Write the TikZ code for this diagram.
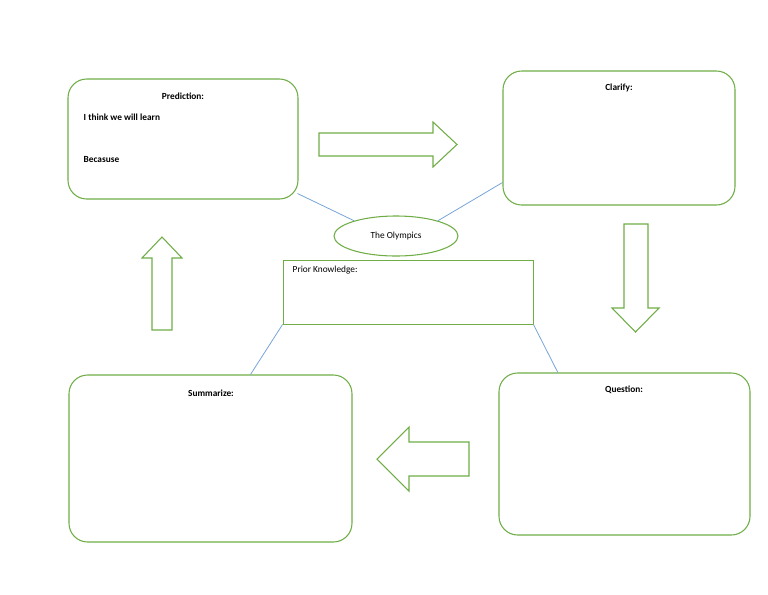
\documentclass[tikz,border=0pt]{standalone}
\usepackage{fontspec}
\setmainfont{Carlito}
\usetikzlibrary{shapes.geometric}
\definecolor{grn}{RGB}{112,173,71}
\definecolor{blu}{RGB}{120,165,215}
\begin{document}
\begin{tikzpicture}[x=0.75pt,y=-0.75pt,
  box/.style={draw=grn,line width=0.8pt,rounded corners=14pt,inner sep=0pt},
  lbl/.style={font=\fontsize{7}{8}\selectfont\bfseries},
  con/.style={draw=blu,line width=0.6pt},
  barrow/.style={draw=grn,line width=0.8pt,fill=white}]
\useasboundingbox (0,0) rectangle (768,594);
\node[box,minimum width=230*0.75pt,minimum height=120*0.75pt] (pred) at (183,139) {};
\node[box,minimum width=232*0.75pt,minimum height=134*0.75pt] (clar) at (619,138) {};
\node[box,minimum width=283*0.75pt,minimum height=167*0.75pt] (summ) at (210.5,458.5) {};
\node[box,minimum width=251*0.75pt,minimum height=162*0.75pt] (ques) at (624.5,454) {};
\node[draw=grn,line width=0.8pt,ellipse,minimum width=124*0.75pt,minimum height=40*0.75pt,font=\fontsize{7}{8}\selectfont] (oly) at (396,236) {The Olympics};
\node[draw=grn,line width=0.6pt,minimum width=250*0.75pt,minimum height=64*0.75pt,inner sep=0pt] (prior) at (408,292) {};
\node[lbl] (t1) at (183,96) {Prediction:};
\node[lbl,anchor=west] (t2) at (79,117) {I think we will learn};
\node[lbl,anchor=west] (t3) at (79,160) {Becasuse};
\node[lbl] (t4) at (619,88) {Clarify:};
\node[lbl] (t5) at (211,393) {Summarize:};
\node[lbl] (t6) at (624,390) {Question:};
\node[anchor=west,font=\fontsize{7}{8}\selectfont] (t7) at (288,270) {Prior Knowledge:};
\draw[con] (pred.south east) ++(-1,-6) -- (oly.160);
\draw[con] (clar.south west) ++(0,-23) -- (oly.20);
\draw[con] (prior.south west) -- ([xshift=30pt]summ.north);
\draw[con] (prior.south east) -- ([xshift=-50pt]ques.north);
\draw[barrow] (319,133) -- (433,133) -- (433,122) -- (457,144.5) -- (433,167) -- (433,156) -- (319,156) -- cycle;
\draw[barrow] (624,224) -- (648,224) -- (648,308) -- (659,308) -- (635.5,332) -- (612,308) -- (624,308) -- cycle;
\draw[barrow] (469,442) -- (409,442) -- (409,427) -- (377,459) -- (409,491) -- (409,476) -- (469,476) -- cycle;
\draw[barrow] (152,330) -- (152,258) -- (142,258) -- (162,237) -- (182,258) -- (172,258) -- (172,330) -- cycle;
\end{tikzpicture}
\end{document}
